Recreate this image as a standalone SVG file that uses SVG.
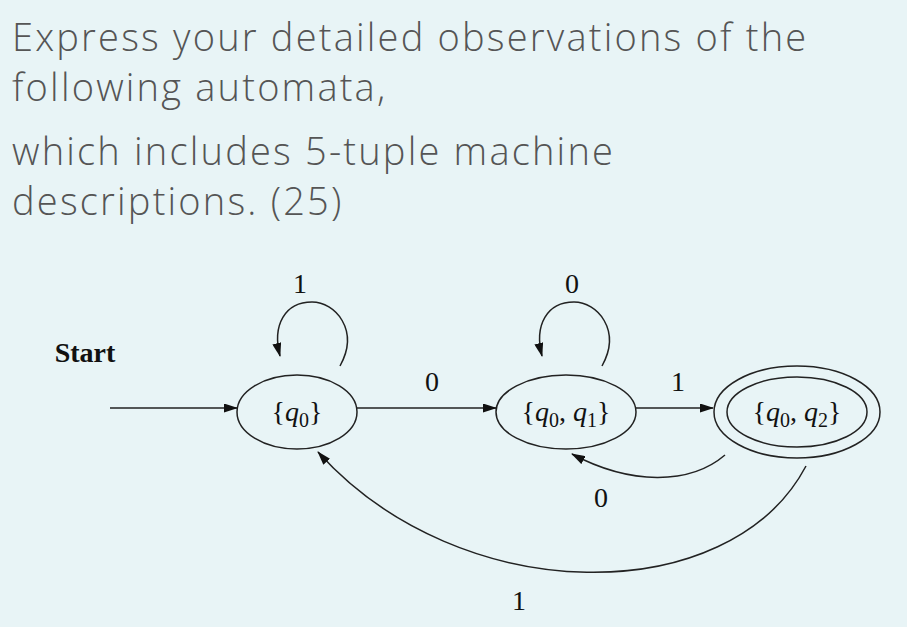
<svg xmlns="http://www.w3.org/2000/svg" width="907" height="627" viewBox="0 0 907 627">
<defs><marker id="a" markerWidth="14" markerHeight="9" refX="13" refY="4.5" orient="auto" markerUnits="userSpaceOnUse"><path d="M0,0 L14,4.5 L0,9 z" fill="#111"/></marker></defs>
<style>.t{font-family:"Open Sans",sans-serif;font-size:38px;font-weight:300;letter-spacing:2.2px;fill:#555}.s{fill:none;stroke:#222;stroke-width:1.5}.l{font-family:"Liberation Serif",serif;font-size:28px;fill:#111;text-anchor:middle}.i{font-style:italic}</style>
<rect width="907" height="627" fill="#e8f4f6"/>
<text class="t" x="12" y="51">Express your detailed observations of the</text>
<text class="t" x="12" y="101">following automata,</text>
<text class="t" x="12" y="165">which includes 5-tuple machine</text>
<text class="t" x="12" y="215">descriptions. (25)</text>
<text class="l" x="85" y="362" style="font-weight:bold">Start</text>
<g id="n0"><ellipse class="s" cx="297" cy="412" rx="60" ry="37"/><text class="l" x="297" y="421">{<tspan class="i">q</tspan><tspan font-size="20" dy="6">0</tspan><tspan dy="-6">}</tspan></text></g>
<g id="n1"><ellipse class="s" cx="566" cy="412" rx="70" ry="37"/><text class="l" x="566" y="421">{<tspan class="i">q</tspan><tspan font-size="20" dy="6">0</tspan><tspan dy="-6">,  </tspan><tspan class="i">q</tspan><tspan font-size="20" dy="6">1</tspan><tspan dy="-6">}</tspan></text></g>
<g id="n2"><ellipse class="s" cx="797" cy="412" rx="83" ry="46"/><ellipse class="s" cx="797" cy="412" rx="70" ry="35"/><text class="l" x="797" y="421">{<tspan class="i">q</tspan><tspan font-size="20" dy="6">0</tspan><tspan dy="-6">,  </tspan><tspan class="i">q</tspan><tspan font-size="20" dy="6">2</tspan><tspan dy="-6">}</tspan></text></g>
<g id="edges">
<line class="s" x1="110" y1="408" x2="237" y2="408" marker-end="url(#a)"/>
<line class="s" x1="357" y1="408" x2="496" y2="408" marker-end="url(#a)"/>
<line class="s" x1="636" y1="408" x2="713" y2="408" marker-end="url(#a)"/>
<path class="s" d="M340,366 C360,330 335,302 312,302 C285,302 272,325 280,356" marker-end="url(#a)"/>
<path class="s" d="M602,366 C622,330 597,302 574,302 C547,302 534,325 542,356" marker-end="url(#a)"/>
<path class="s" d="M725,455 C690,485 630,485 572,454" marker-end="url(#a)"/>
<path class="s" d="M806,466 C730,610 460,610 318,452" marker-end="url(#a)"/>
<text class="l" x="300" y="293">1</text>
<text class="l" x="572" y="293">0</text>
<text class="l" x="432" y="391">0</text>
<text class="l" x="678" y="391">1</text>
<text class="l" x="601" y="507">0</text>
<text class="l" x="519" y="610">1</text>
</g>
</svg>
